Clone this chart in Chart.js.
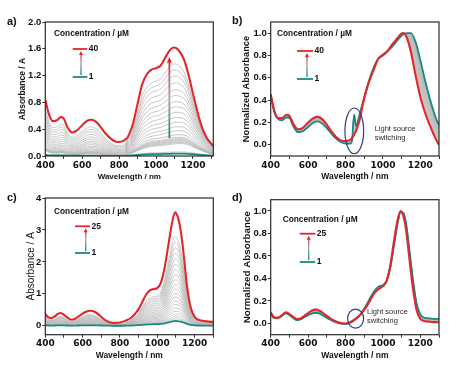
<!DOCTYPE html>
<html><head><meta charset="utf-8">
<script src="https://cdn.jsdelivr.net/npm/chart.js@4"></script>
<style>
html,body{margin:0;padding:0;background:#fff;width:474px;height:366px;overflow:hidden;position:relative}
canvas{position:absolute}
.lab{position:absolute;font:bold 11px "Liberation Sans",Arial,sans-serif;line-height:11px;color:#111}
</style></head><body>
<canvas id="cA" width="232" height="183" style="left:0;top:0"></canvas>
<canvas id="cB" width="242" height="183" style="left:232px;top:0"></canvas>
<canvas id="cC" width="232" height="183" style="left:0;top:183px"></canvas>
<canvas id="cD" width="242" height="183" style="left:232px;top:183px"></canvas>
<div class="lab" style="left:7px;top:16px">a)</div>
<div class="lab" style="left:232px;top:15px">b)</div>
<div class="lab" style="left:7px;top:192px">c)</div>
<div class="lab" style="left:232px;top:192px">d)</div>
<script>
// ---------- data ----------
const wlAB = [400,420,440,460,485,500,520,545,570,600,630,650,675,700,725,750,775,800,825,835,846,857,875,900,925,950,975,1000,1025,1050,1075,1095,1110,1130,1150,1175,1200,1225,1250,1275,1300,1315];
const redA = [0.84,0.62,0.52,0.53,0.58,0.56,0.43,0.35,0.38,0.46,0.53,0.54,0.51,0.43,0.34,0.27,0.22,0.21,0.23,0.25,0.28,0.34,0.48,0.78,1.07,1.22,1.29,1.31,1.35,1.47,1.58,1.62,1.61,1.55,1.45,1.22,0.93,0.65,0.42,0.27,0.18,0.14];
const tealA = [0.016,0.010,0.008,0.008,0.009,0.009,0.006,0.004,0.004,0.006,0.007,0.007,0.007,0.005,0.003,0.002,0.001,0.0,0.0,0.002,0.009,0.006,0.009,0.015,0.020,0.024,0.027,0.028,0.029,0.031,0.033,0.034,0.035,0.035,0.035,0.032,0.027,0.020,0.015,0.010,0.006,0.006];
const grayPeaksA = [1.38,1.29,1.20,1.10,1.00,0.91,0.82,0.74,0.66,0.58,0.51,0.44,0.38,0.32,0.28,0.26,0.245,0.23,0.215,0.20,0.185,0.06];
const redB = [0.45,0.30,0.24,0.24,0.27,0.26,0.19,0.14,0.15,0.20,0.24,0.25,0.23,0.18,0.12,0.07,0.04,0.035,0.045,0.06,0.09,0.13,0.22,0.42,0.56,0.67,0.77,0.80,0.84,0.90,0.95,0.99,1.0,0.95,0.83,0.62,0.43,0.29,0.18,0.08,0.0,-0.03];
const tealB = [0.45,0.29,0.23,0.22,0.245,0.24,0.17,0.115,0.12,0.16,0.20,0.21,0.19,0.15,0.10,0.055,0.025,0.01,0.01,0.04,0.27,0.17,0.27,0.42,0.57,0.69,0.77,0.81,0.84,0.88,0.93,0.97,0.99,1.0,1.0,0.92,0.76,0.58,0.42,0.28,0.18,0.17];

const wlCD = [400,415,430,450,465,480,495,515,540,560,590,615,640,665,690,715,740,770,800,830,860,880,900,920,940,960,980,1000,1020,1040,1060,1080,1095,1110,1125,1140,1160,1180,1200,1225,1250,1275,1300];
const redC = [0.37,0.27,0.24,0.29,0.36,0.40,0.36,0.27,0.19,0.22,0.34,0.43,0.47,0.44,0.33,0.20,0.12,0.09,0.10,0.16,0.25,0.37,0.52,0.75,0.98,1.11,1.15,1.18,1.36,1.84,2.55,3.25,3.55,3.40,3.00,2.30,1.20,0.55,0.28,0.18,0.15,0.13,0.12];
const tealC = [0.014,0.008,0.007,0.008,0.011,0.014,0.012,0.008,0.005,0.005,0.010,0.013,0.014,0.013,0.009,0.005,0.002,0.0,0.0,0.002,0.007,0.012,0.020,0.028,0.037,0.045,0.050,0.051,0.057,0.075,0.105,0.135,0.150,0.147,0.132,0.102,0.060,0.027,0.012,0.008,0.007,0.006,0.006];
const grayPeaksC = [2.80,2.62,2.45,2.28,2.10,1.93,1.76,1.60,1.45,1.30,1.16,1.02,0.90,0.78,0.67,0.56,0.46,0.37,0.29,0.22];
const redD = [0.10,0.06,0.05,0.06,0.08,0.10,0.09,0.065,0.04,0.045,0.08,0.11,0.125,0.11,0.08,0.05,0.025,0.005,0.0,0.015,0.05,0.08,0.12,0.17,0.23,0.28,0.31,0.33,0.38,0.52,0.74,0.93,1.0,0.95,0.82,0.60,0.32,0.12,0.04,0.02,0.015,0.012,0.01];
const tealD = [0.09,0.05,0.045,0.055,0.075,0.09,0.08,0.055,0.03,0.035,0.065,0.085,0.095,0.085,0.06,0.035,0.015,0.0,-0.005,0.01,0.045,0.08,0.13,0.19,0.25,0.30,0.33,0.34,0.38,0.50,0.70,0.90,0.99,0.98,0.88,0.68,0.40,0.18,0.08,0.05,0.045,0.04,0.04];

// ticks
const xTicks = [400,500,600,700,800,900,1000,1100,1200,1300];
const xLabels = [400,600,800,1000,1200];
const yTicksA = [0,0.4,0.8,1.2,1.6,2.0];
const yTicksNorm = [0,0.2,0.4,0.6,0.8,1.0];
const yTicksC = [0,1,2,3,4];

// ---------- build tables ----------
const RED = '#e3262b', TEAL = '#178a84', GRAY = '#bababa';
const maxA = Math.max(...redA), maxC = Math.max(...redC);
const w01 = (p, lo, hi) => Math.max(0, Math.min(1, (p - lo) / (hi - lo)));
const pts = (wl, arr) => arr.map((v, i) => ({x: wl[i], y: v}));
const grayA = grayPeaksA.map(p => { const w = w01(p, 0.035, maxA); return wlAB.map((_, i) => p * (w * redA[i] / maxA + (1 - w) * tealB[i])); });
const grayB = grayPeaksA.map(p => { const w = w01(p, 0.035, maxA); return wlAB.map((_, i) => w * redB[i] + (1 - w) * tealB[i]); });
const grayC = grayPeaksC.map(p => { const w = w01(p, 0.15, maxC); return wlCD.map((_, i) => p * (w * redC[i] / maxC + (1 - w) * tealD[i])); });
const grayD = grayPeaksC.map(p => { const w = w01(p, 0.15, maxC); return wlCD.map((_, i) => w * redD[i] + (1 - w) * tealD[i]); });

function sets(wl, red, teal, grays) {
  const base = {pointRadius: 0, cubicInterpolationMode: 'monotone', fill: false};
  const out = [
    {...base, data: pts(wl, red), borderColor: RED, borderWidth: 2.1},
    {...base, data: pts(wl, teal), borderColor: TEAL, borderWidth: 1.8}
  ];
  grays.forEach(g => out.push({...base, data: pts(wl, g), borderColor: GRAY, borderWidth: 0.8}));
  return out;
}

// ---------- decoration plugin ----------
const decor = {
  id: 'decor',
  afterDatasetsDraw(chart, args, o) {
    const {ctx, chartArea: ca, scales: {x, y}} = chart;
    ctx.save();
    ctx.strokeStyle = '#2a2a2a'; ctx.lineWidth = 1.2;
    ctx.strokeRect(ca.left, ca.top, ca.right - ca.left, ca.bottom - ca.top);
    function arrow(xp, yb, yt, lw, hw, hh) {
      const g = ctx.createLinearGradient(0, yb, 0, yt);
      g.addColorStop(0, TEAL); g.addColorStop(0.5, '#a9a9a9'); g.addColorStop(1, RED);
      ctx.strokeStyle = g; ctx.lineWidth = lw;
      ctx.beginPath(); ctx.moveTo(xp, yb); ctx.lineTo(xp, yt + hh - 0.5); ctx.stroke();
      ctx.fillStyle = RED;
      ctx.beginPath(); ctx.moveTo(xp, yt); ctx.lineTo(xp - hw / 2, yt + hh); ctx.lineTo(xp + hw / 2, yt + hh); ctx.closePath(); ctx.fill();
    }
    if (o.ellipse) {
      const e = o.ellipse;
      const cx = x.getPixelForValue(e.x), cy = y.getPixelForValue(e.y);
      const rx = Math.abs(x.getPixelForValue(e.x + e.rx) - cx);
      const ry = Math.abs(y.getPixelForValue(e.y + e.ry) - cy);
      ctx.beginPath(); ctx.ellipse(cx, cy, rx, ry, 0, 0, Math.PI * 2);
      ctx.strokeStyle = '#2c3e8c'; ctx.lineWidth = 1.2; ctx.stroke();
    }
    if (o.note) {
      ctx.font = '7.5px "Liberation Sans", Arial, sans-serif'; ctx.fillStyle = '#2a2a2a'; ctx.textBaseline = 'middle'; ctx.textAlign = 'left';
      o.note.lines.forEach((t, k) => ctx.fillText(t, x.getPixelForValue(o.note.x), y.getPixelForValue(o.note.ys[k])));
    }
    if (o.bigArrow) {
      const b = o.bigArrow;
      arrow(x.getPixelForValue(b.x), y.getPixelForValue(b.y0), y.getPixelForValue(b.y1), 1.8, 5, 6);
    }
    const L = o.legend;
    const l = ca.left, t = ca.top;
    ctx.fillStyle = '#111'; ctx.textBaseline = 'middle'; ctx.textAlign = 'left';
    ctx.font = 'bold 8.3px "Liberation Sans", Arial, sans-serif';
    ctx.fillText('Concentration / \u00b5M', l + L.dx, t + L.dy);
    ctx.lineWidth = 1.8;
    ctx.strokeStyle = RED; ctx.beginPath(); ctx.moveTo(l + L.lx0, t + L.ry); ctx.lineTo(l + L.lx1, t + L.ry); ctx.stroke();
    ctx.strokeStyle = TEAL; ctx.beginPath(); ctx.moveTo(l + L.lx0, t + L.ty); ctx.lineTo(l + L.lx1, t + L.ty); ctx.stroke();
    ctx.font = 'bold 8.5px "Liberation Sans", Arial, sans-serif'; ctx.fillStyle = '#111';
    ctx.fillText(L.hi, l + L.lx1 + 1.5, t + L.ry);
    ctx.fillText(L.lo, l + L.lx1 + 1.5, t + L.ty);
    arrow(l + L.ax, t + L.ty - 2, t + L.ry + 2, 1.4, 4, 4);
    ctx.restore();
  }
};

function makeChart(id, p) {
  const tickFontY = {family: 'Liberation Sans', weight: 'bold', size: 9.5};
  const tickFontX = {family: 'DejaVu Sans', weight: 'bold', size: 9};
  const grid = {drawOnChartArea: false, drawTicks: true, tickLength: 3, color: '#333', lineWidth: 1};
  return new Chart(document.getElementById(id), {
    type: 'line',
    data: {datasets: p.datasets},
    plugins: [decor],
    options: {
      responsive: false, animation: false, devicePixelRatio: 1,
      layout: {padding: {left: 0, top: p.top, right: p.right, bottom: 0}},
      plugins: {legend: {display: false}, tooltip: {enabled: false}, decor: p.decor},
      scales: {
        x: {type: 'linear', min: 400, max: p.xmax,
          afterBuildTicks: s => { s.ticks = xTicks.map(v => ({value: v})); },
          ticks: {callback: v => xLabels.includes(v) ? String(v) : '', font: tickFontX, color: '#111', padding: 1, maxRotation: 0, autoSkip: false},
          grid: grid, border: {display: false},
          title: {display: true, text: 'Wavelength / nm', color: '#111', font: {family: 'Liberation Sans', weight: 'bold', size: p.xtSize}, padding: {top: 0, bottom: p.xtPad}},
          afterFit: s => { s.height = p.xh; }
        },
        y: {min: p.ymin, max: p.ymax,
          afterBuildTicks: s => { s.ticks = p.yTicks.map(v => ({value: v})); },
          ticks: {callback: p.fmt, font: tickFontY, color: '#111', padding: 1, autoSkip: false},
          grid: grid, border: {display: false},
          title: {display: true, text: p.ytitle, color: '#111', font: {family: 'Liberation Sans', weight: p.ytWeight || 'bold', size: p.ytSize}, padding: {top: p.ytPad, bottom: 0}},
          afterFit: s => { s.width = p.yw; }
        }
      }
    }
  });
}

const f1 = v => v.toFixed(1);
makeChart('cA', {datasets: sets(wlAB, redA, tealA, grayA), top: 22, right: 18.7, xh: 27, yw: 45.3, xmax: 1310,
  ymin: 0, ymax: 2.0, yTicks: yTicksA, fmt: f1, ytitle: 'Absorbance / A', ytSize: 8.5, ytPad: 17.6, xtSize: 8, xtPad: 1.5,
  decor: {legend: {dx: 8.7, dy: 11.5, lx0: 27.4, lx1: 42, ry: 27, ty: 55, ax: 35.7, hi: '40', lo: '1'},
          bigArrow: {x: 1072, y0: 0.27, y1: 1.48}}});
makeChart('cB', {datasets: sets(wlAB, redB, tealB, grayB), top: 22, right: 35, xh: 27, yw: 38.7, xmax: 1300,
  ymin: -0.1, ymax: 1.1, yTicks: yTicksNorm, fmt: f1, ytitle: 'Normalized Absorbance', ytSize: 9.3, ytPad: 8.4, xtSize: 8.5, xtPad: 1.5,
  decor: {legend: {dx: 6.3, dy: 12, lx0: 26.3, lx1: 42.3, ry: 29, ty: 57, ax: 36.3, hi: '40', lo: '1'},
          ellipse: {x: 847, y: 0.125, rx: 50, ry: 0.205},
          note: {x: 956, ys: [0.14, 0.06], lines: ['Light source', 'switching']}}});
makeChart('cC', {datasets: sets(wlCD, redC, tealC, grayC), top: 15, right: 18.7, xh: 31.3, yw: 45.3, xmax: 1300,
  ymin: -0.28, ymax: 4, yTicks: yTicksC, fmt: v => String(v), ytitle: 'Absorbance / A', ytSize: 10, ytWeight: 'normal', ytPad: 25, xtSize: 8.5, xtPad: 5,
  decor: {legend: {dx: 8.7, dy: 13.3, lx0: 29.7, lx1: 44.7, ry: 28.3, ty: 55, ax: 40.4, hi: '25', lo: '1'}}});
makeChart('cD', {datasets: sets(wlCD, redD, tealD, grayD), top: 16.7, right: 35, xh: 31.3, yw: 38.7, xmax: 1300,
  ymin: -0.1, ymax: 1.1, yTicks: yTicksNorm, fmt: f1, ytitle: 'Normalized Absorbance', ytSize: 9.8, ytPad: 9, xtSize: 8.5, xtPad: 5,
  decor: {legend: {dx: 12, dy: 20, lx0: 29, lx1: 44.6, ry: 34, ty: 62.3, ax: 38, hi: '25', lo: '1'},
          ellipse: {x: 854, y: 0.043, rx: 43, ry: 0.085},
          note: {x: 915, ys: [0.104, 0.02], lines: ['Light source', 'switching']}}});
</script>
</body></html>
